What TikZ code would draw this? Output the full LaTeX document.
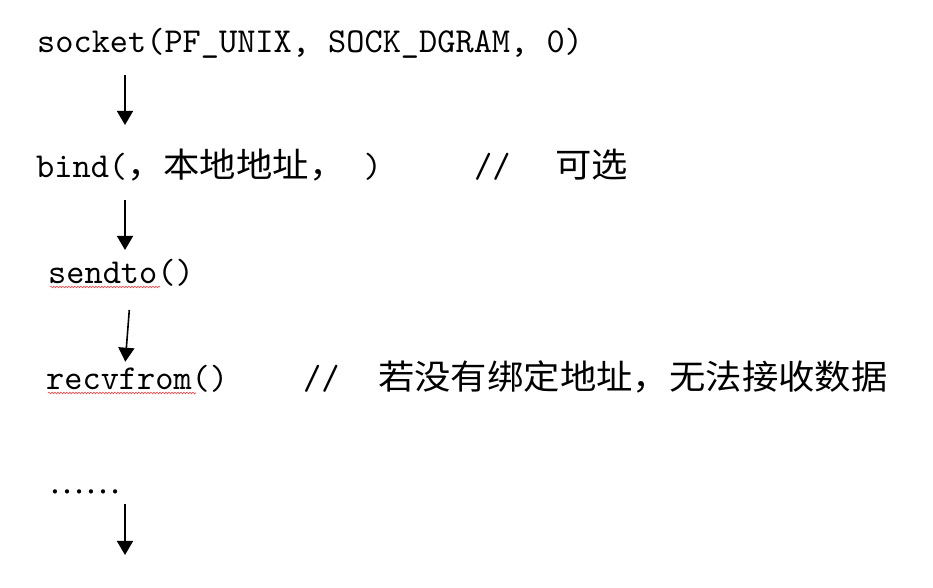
\documentclass[tikz,border=0pt]{standalone}
\usepackage{fontspec}
\newfontfamily\codefont{lmmono10-regular}[Extension=.otf, FakeStretch=0.99]
\newfontfamily\hanfont{Noto Sans CJK SC}[FakeStretch=1.07]
\newfontfamily\dotfont{Liberation Serif}
\newcommand\han[1]{{\hanfont\fontsize{34}{38}\selectfont #1}}
\usetikzlibrary{positioning}
\usetikzlibrary{calc}
\usetikzlibrary{arrows.meta}
\usetikzlibrary{decorations.pathmorphing}
\tikzset{
    % Program text, set on its own baseline
    code/.style={inner sep=0, anchor=base west,
        font=\codefont\fontsize{35}{40}\selectfont},
%
    % The arrows from one call to the next, with filled heads
    flow/.style={-{Triangle[width=16pt,length=14pt]}, line width=1.6pt},
%
    % Spell checker mark under a word
    squiggle/.style={draw=red!75, line width=0.6pt,
        decorate, decoration={snake, amplitude=0.8pt, segment length=3pt}}}

\begin{document}
\begin{tikzpicture}[x=1pt, y=1pt]

% Page area
\useasboundingbox (0,0) rectangle (933,588);

\coordinate (col) at (125,0);

\node [code] (sock) at (37,535) {socket(PF\_UNIX, SOCK\_DGRAM, 0)};

\node [code] (bind) at (36,410.5) {bind(\han{，本地地址，} )};
\node [code] (bindnote) at (474,410.5) {//};
\node [code] (bindtext) at (555,410.5) {\han{可选}};

\node [code] (send) at (48,304) {sendto()};

\node [code] (recv) at (46,198) {recvfrom()};
\node [code] (recvnote) at (303,198) {//};
\node [code] (recvtext) at (378,198) {\han{若没有绑定地址，无法接收数据}};

\node [code, font=\dotfont\fontsize{36}{40}\selectfont] (more) at (49,94.5) {……};
\coordinate (end) at (125,33);

\draw [flow] ($(sock.base -| col)+(0,-22)$) -- ($(bind.base -| col)+(0,52.5)$);
\draw [flow] ($(bind.base -| col)+(0,-22.5)$) -- ($(send.base -| col)+(0,34)$);
\draw [flow] ($(send.base -| col)+(4.3,-26)$) -- ($(recv.base -| col)+(0.3,28.3)$);
\draw [flow] ($(more.base -| col)+(0,-10.5)$) -- (end);

% vim: filetype=tex:
\path [squiggle] ($(send.base west)+(2,-3)$) -- ++(110,0);
\path [squiggle] ($(recv.base west)+(2,-3)$) -- ++(148,0);

\end{tikzpicture}
\end{document}
